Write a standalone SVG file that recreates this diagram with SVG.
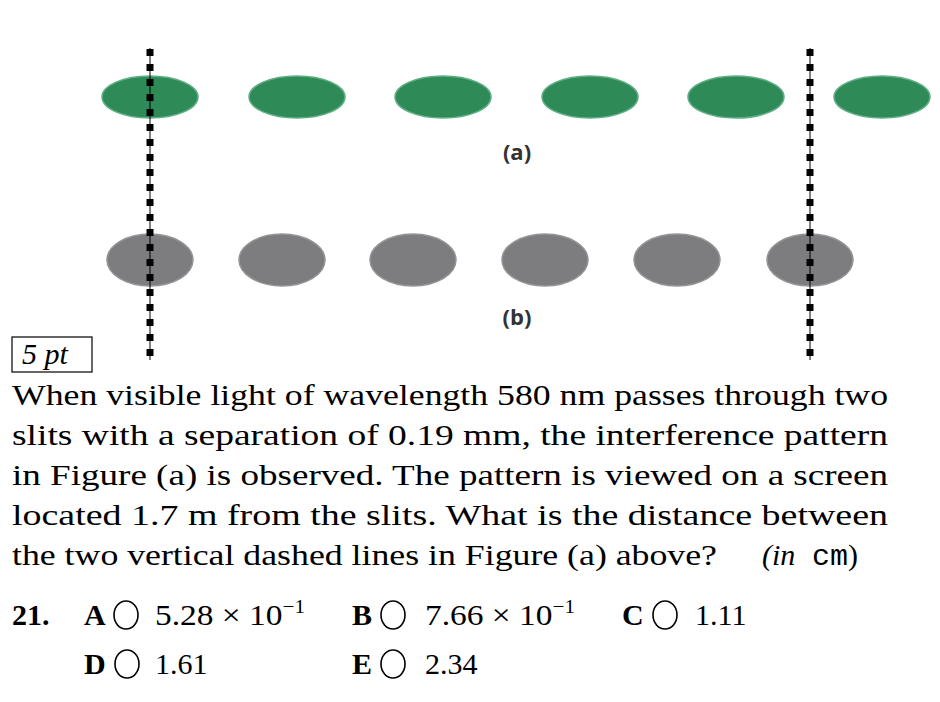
<svg xmlns="http://www.w3.org/2000/svg" width="940" height="702" viewBox="0 0 940 702">
<style>
.g{fill:#2e8b57;stroke:#5fae85;stroke-width:1.5}
.k{fill:#7d7d80;stroke:#959598;stroke-width:1.5}
.t{font-family:"Liberation Serif",serif;font-size:30px;fill:#000}
.b{font-weight:bold}
.lab{font-family:"Open Sans",sans-serif;font-size:22px;font-weight:bold;fill:#333}
.dl{stroke:#000;stroke-width:1}
.dd{stroke:#000;stroke-width:7;stroke-dasharray:7 8}
.c{fill:none;stroke:#000;stroke-width:1.6}
</style>
<rect width="940" height="702" fill="#fff"/>
<g id="spots-a">
<ellipse class="g" cx="150" cy="97" rx="48" ry="21"/>
<ellipse class="g" cx="297" cy="97" rx="48" ry="21"/>
<ellipse class="g" cx="443" cy="97" rx="48" ry="21"/>
<ellipse class="g" cx="590" cy="97" rx="48" ry="21"/>
<ellipse class="g" cx="736" cy="97" rx="48" ry="21"/>
<ellipse class="g" cx="882" cy="97" rx="48" ry="21"/>
<text class="lab" x="517" y="160" text-anchor="middle">(a)</text>
</g>
<g id="spots-b">
<ellipse class="k" cx="150" cy="260" rx="43" ry="26"/>
<ellipse class="k" cx="282" cy="260" rx="43" ry="26"/>
<ellipse class="k" cx="413" cy="260" rx="43" ry="26"/>
<ellipse class="k" cx="545" cy="260" rx="43" ry="26"/>
<ellipse class="k" cx="677" cy="260" rx="43" ry="26"/>
<ellipse class="k" cx="810" cy="260" rx="43" ry="26"/>
<text class="lab" x="517" y="325" text-anchor="middle">(b)</text>
</g>
<g id="dashed-lines">
<line class="dl" x1="150" y1="48" x2="150" y2="360"/>
<line class="dd" x1="150" y1="49" x2="150" y2="360"/>
<line class="dl" x1="810" y1="48" x2="810" y2="360"/>
<line class="dd" x1="810" y1="49" x2="810" y2="360"/>
</g>
<g id="question">
<rect x="12" y="337" width="80" height="35" fill="none" stroke="#000" stroke-width="1.2"/>
<text class="t" x="22" y="364" font-style="italic">5 pt</text>
<text class="t" x="12" y="405" textLength="876" lengthAdjust="spacingAndGlyphs">When visible light of wavelength 580 nm passes through two</text>
<text class="t" x="12" y="445" textLength="876" lengthAdjust="spacingAndGlyphs">slits with a separation of 0.19 mm, the interference pattern</text>
<text class="t" x="12" y="485" textLength="876" lengthAdjust="spacingAndGlyphs">in Figure (a) is observed. The pattern is viewed on a screen</text>
<text class="t" x="12" y="525" textLength="876" lengthAdjust="spacingAndGlyphs">located 1.7 m from the slits. What is the distance between</text>
<text class="t" x="12" y="565" textLength="705" lengthAdjust="spacingAndGlyphs">the two vertical dashed lines in Figure (a) above?</text>
<text class="t" x="762" y="565" font-style="italic">(in </text>
<text class="t" x="812" y="565"><tspan font-family="Liberation Mono,monospace">cm</tspan>)</text>
</g>
<g id="answers">
<text class="t b" x="12" y="625">21.</text>
<text class="t b" x="84" y="625">A</text><ellipse class="c" cx="126" cy="615" rx="12" ry="14"/>
<text class="t" x="155" y="625" textLength="150" lengthAdjust="spacingAndGlyphs">5.28 × 10<tspan font-size="19" dy="-12">−1</tspan></text>
<text class="t b" x="352" y="625">B</text><ellipse class="c" cx="393" cy="615" rx="12" ry="14"/>
<text class="t" x="425" y="625" textLength="150" lengthAdjust="spacingAndGlyphs">7.66 × 10<tspan font-size="19" dy="-12">−1</tspan></text>
<text class="t b" x="622" y="625">C</text><ellipse class="c" cx="665" cy="615" rx="12" ry="14"/>
<text class="t" x="695" y="625">1.11</text>
<text class="t b" x="84" y="674">D</text><ellipse class="c" cx="127" cy="664" rx="12" ry="14"/>
<text class="t" x="155" y="674">1.61</text>
<text class="t b" x="352" y="674">E</text><ellipse class="c" cx="393" cy="664" rx="12" ry="14"/>
<text class="t" x="425" y="674">2.34</text>
</g>
</svg>
